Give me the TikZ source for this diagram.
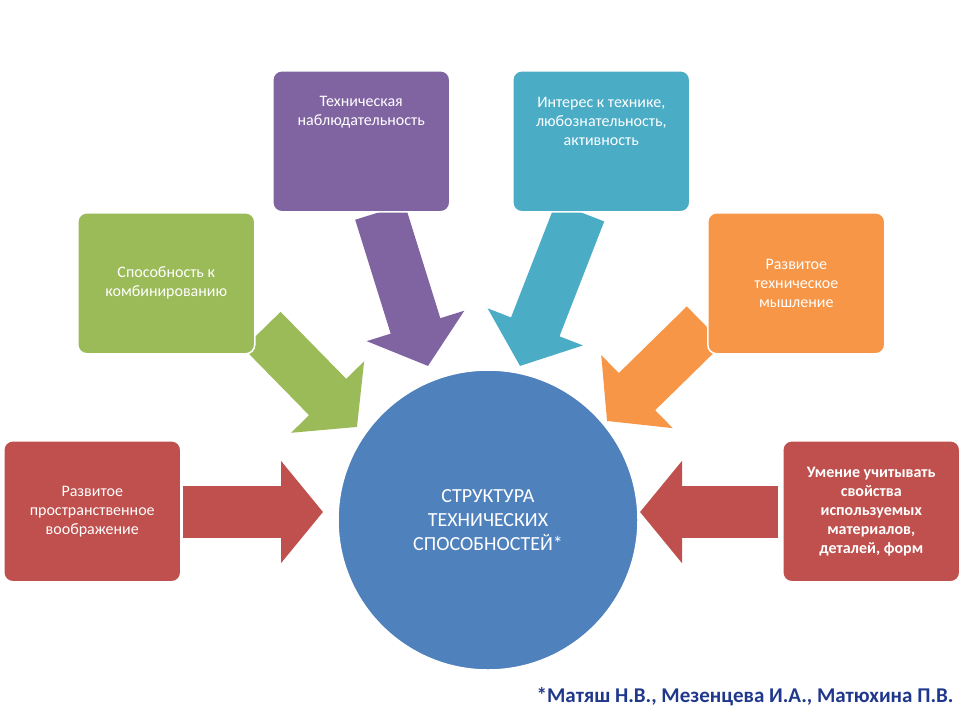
\documentclass[tikz,border=0pt]{standalone}
\usepackage{fontspec}
\setmainfont{Carlito}
\usetikzlibrary{arrows.meta}
\begin{document}
\begin{tikzpicture}[x=1pt,y=-1pt,
  box/.style={draw=white,line width=1.5pt,rounded corners=9pt,minimum width=177pt,minimum height=141pt,
    text=white,align=center,font=\fontsize{16}{19}\selectfont,anchor=north west},
  blk/.style={line width=52pt,-{Triangle[width=100pt,length=42pt]}}]
  \useasboundingbox (0,0) rectangle (960,720);
  \definecolor{cred}{HTML}{C0504D}\definecolor{cgreen}{HTML}{9BBB59}
  \definecolor{cpurple}{HTML}{8064A2}\definecolor{cteal}{HTML}{4BACC6}
  \definecolor{corange}{HTML}{F79646}\definecolor{cblue}{HTML}{4F81BD}

  % arrows
  \coordinate (a1) at (183,512); \coordinate (t1) at (323,512);
  \coordinate (a2) at (262,330); \coordinate (t2) at (357,427);
  \coordinate (a3) at (380,212); \coordinate (t3) at (428,366);
  \coordinate (a4) at (580,212); \coordinate (t4) at (520,366);
  \coordinate (a5) at (705,325); \coordinate (t5) at (607,421);
  \coordinate (a6) at (778,512); \coordinate (t6) at (640,512);
  \draw[blk,cred] (a1) -- (t1);
  \draw[blk,cgreen] (a2) -- (t2);
  \draw[blk,cpurple] (a3) -- (t3);
  \draw[blk,cteal] (a4) -- (t4);
  \draw[blk,corange] (a5) -- (t5);
  \draw[blk,cred] (a6) -- (t6);

  \node[box,fill=cred] (imag) at (3,440) {Развитое\\пространственное\\воображение};
  \node[box,fill=cgreen] (comb) at (77,212) {Способность к\\комбинированию};
  \node[box,fill=cpurple,text depth=60pt] (obs) at (272,70) {Техническая\\наблюдательность};
  \node[box,fill=cteal,text depth=40pt] (int) at (512,70) {Интерес к технике,\\любознательность,\\активность};
  \node[box,fill=corange] (think) at (707,212) {Развитое\\техническое\\мышление};
  \node[box,fill=cred,font=\fontsize{16}{19}\selectfont\bfseries] (mat) at (782,440)
    {Умение учитывать\\свойства\\используемых\\материалов,\\деталей, форм};

  \node[circle,fill=cblue,draw=white,line width=1.5pt,minimum size=300pt,text=white,align=center,
    font=\fontsize{20}{24}\selectfont] (core) at (488,520) {СТРУКТУРА\\ТЕХНИЧЕСКИХ\\СПОСОБНОСТЕЙ*};

  \node[anchor=east,text={rgb,255:red,32;green,56;blue,140},font=\fontsize{21}{24}\selectfont\bfseries] (ref)
    at (957,697) {*Матяш Н.В., Мезенцева И.А., Матюхина П.В.};
\end{tikzpicture}
\end{document}
